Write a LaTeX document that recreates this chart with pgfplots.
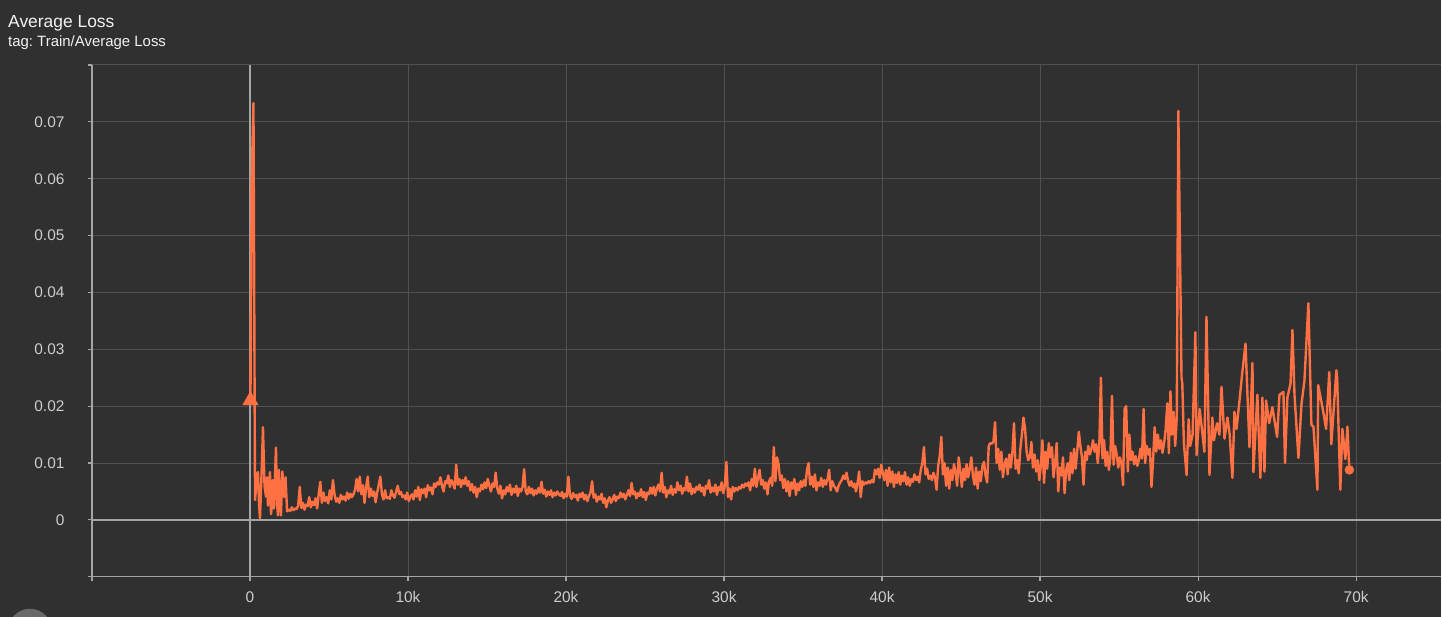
\documentclass[border=0pt]{standalone}
\usepackage{pgfplots}
\usepackage{pgfplotstable}
\pgfplotsset{compat=1.18}
\usepackage{fontspec}
\setmainfont{Liberation Sans}
\frenchspacing
\definecolor{bgc}{RGB}{48,48,48}
\definecolor{gridc}{RGB}{80,80,80}
\definecolor{axisc}{RGB}{165,165,165}
\definecolor{labc}{RGB}{205,205,205}
\definecolor{titc}{RGB}{242,242,242}
\definecolor{lossc}{RGB}{255,112,67}
\definecolor{circc}{RGB}{105,105,105}

\pgfplotstableread{
step loss
30 0.0210
110 0.0600
220 0.0733
320 0.0035
443 0.0080
506 0.0084
570 0.0030
633 0.0003
720 0.0070
822 0.0163
920 0.0060
1012 0.0041
1080 0.0075
1139 0.0025
1265 0.0084
1330 0.0010
1392 0.0027
1455 0.0070
1518 0.0020
1645 0.0127
1710 0.0030
1771 0.0008
1834 0.0088
1900 0.0030
1961 0.0008
2050 0.0085
2150 0.0040
2250 0.0075
2350 0.0015
2450 0.0018
2550 0.0016
2650 0.0022
2750 0.0017
2850 0.0020
2950 0.0019
3050 0.0025
3150 0.0058
3250 0.0021
3350 0.0030
3450 0.0018
3550 0.0027
3650 0.0024
3750 0.0040
3850 0.0022
3950 0.0032
4050 0.0026
4150 0.0038
4250 0.0020
4350 0.0045
4450 0.0067
4550 0.0030
4650 0.0048
4750 0.0033
4850 0.0040
4950 0.0029
5050 0.0052
5150 0.0036
5250 0.0070
5350 0.0045
5450 0.0032
5550 0.0038
5650 0.0030
5750 0.0044
5850 0.0036
5950 0.0041
6050 0.0034
6150 0.0048
6250 0.0037
6350 0.0046
6450 0.0040
6550 0.0045
6650 0.0053
6750 0.0072
6850 0.0050
6950 0.0076
7050 0.0045
7150 0.0061
7250 0.0030
7350 0.0058
7450 0.0076
7550 0.0040
7650 0.0055
7750 0.0042
7850 0.0050
7950 0.0031
8050 0.0048
8150 0.0062
8250 0.0076
8350 0.0045
8450 0.0036
8550 0.0052
8650 0.0038
8750 0.0040
8850 0.0037
8950 0.0052
9050 0.0043
9150 0.0039
9250 0.0050
9350 0.0060
9450 0.0045
9550 0.0049
9650 0.0040
9750 0.0043
9850 0.0036
9950 0.0048
10050 0.0033
10150 0.0041
10250 0.0045
10350 0.0036
10450 0.0052
10550 0.0041
10650 0.0058
10750 0.0035
10850 0.0054
10950 0.0047
11050 0.0055
11150 0.0040
11250 0.0061
11350 0.0052
11450 0.0057
11550 0.0045
11650 0.0064
11750 0.0058
11850 0.0066
11950 0.0062
12050 0.0075
12150 0.0060
12250 0.0050
12350 0.0068
12450 0.0064
12550 0.0078
12650 0.0058
12750 0.0070
12850 0.0064
12950 0.0055
13050 0.0097
13150 0.0062
13250 0.0072
13350 0.0058
13450 0.0070
13550 0.0063
13650 0.0075
13750 0.0060
13850 0.0068
13950 0.0052
14050 0.0063
14150 0.0048
14250 0.0058
14350 0.0040
14450 0.0055
14550 0.0050
14650 0.0062
14750 0.0054
14850 0.0066
14950 0.0056
15050 0.0072
15150 0.0060
15250 0.0050
15350 0.0064
15450 0.0058
15550 0.0083
15650 0.0055
15750 0.0046
15850 0.0060
15950 0.0038
16050 0.0052
16150 0.0045
16250 0.0058
16350 0.0050
16450 0.0062
16550 0.0044
16650 0.0055
16750 0.0048
16850 0.0060
16950 0.0042
17050 0.0055
17150 0.0050
17250 0.0058
17350 0.0089
17450 0.0050
17550 0.0045
17650 0.0058
17750 0.0047
17850 0.0055
17950 0.0043
18050 0.0052
18150 0.0046
18250 0.0056
18350 0.0048
18450 0.0067
18550 0.0046
18650 0.0053
18750 0.0041
18850 0.0050
18950 0.0044
19050 0.0052
19150 0.0040
19250 0.0048
19350 0.0043
19450 0.0050
19550 0.0045
19650 0.0042
19750 0.0049
19850 0.0038
19950 0.0046
20050 0.0041
20150 0.0076
20250 0.0043
20350 0.0037
20450 0.0047
20550 0.0040
20650 0.0044
20750 0.0034
20850 0.0046
20950 0.0040
21050 0.0048
21150 0.0036
21250 0.0044
21350 0.0033
21450 0.0042
21550 0.0048
21650 0.0068
21750 0.0039
21850 0.0045
21950 0.0032
22050 0.0041
22150 0.0036
22250 0.0046
22350 0.0030
22450 0.0038
22550 0.0022
22650 0.0034
22750 0.0040
22850 0.0030
22950 0.0036
23050 0.0044
23150 0.0033
23250 0.0041
23350 0.0038
23450 0.0048
23550 0.0040
23650 0.0046
23750 0.0036
23850 0.0044
23950 0.0052
24050 0.0042
24150 0.0065
24250 0.0045
24350 0.0050
24450 0.0038
24550 0.0047
24650 0.0042
24750 0.0054
24850 0.0040
24950 0.0049
25050 0.0035
25150 0.0048
25250 0.0045
25350 0.0057
25450 0.0046
25550 0.0058
25650 0.0043
25750 0.0055
25850 0.0062
25950 0.0050
26050 0.0083
26150 0.0048
26250 0.0058
26350 0.0040
26450 0.0052
26550 0.0047
26650 0.0060
26750 0.0044
26850 0.0054
26950 0.0048
27050 0.0066
27150 0.0052
27250 0.0060
27350 0.0046
27450 0.0056
27550 0.0052
27650 0.0076
27750 0.0050
27850 0.0064
27950 0.0045
28050 0.0055
28150 0.0048
28250 0.0058
28350 0.0053
28450 0.0062
28550 0.0050
28650 0.0057
28750 0.0043
28850 0.0060
28950 0.0055
29050 0.0070
29150 0.0048
29250 0.0057
29350 0.0050
29450 0.0062
29550 0.0044
29650 0.0058
29750 0.0052
29850 0.0066
29950 0.0047
30050 0.0060
30150 0.0102
30250 0.0040
30350 0.0055
30450 0.0036
30550 0.0058
30650 0.0050
30750 0.0056
30850 0.0052
30950 0.0058
31050 0.0055
31150 0.0062
31250 0.0057
31350 0.0064
31450 0.0060
31550 0.0066
31650 0.0052
31750 0.0072
31850 0.0060
31950 0.0090
32050 0.0058
32150 0.0074
32250 0.0088
32350 0.0062
32450 0.0070
32550 0.0055
32650 0.0066
32750 0.0045
32850 0.0068
32950 0.0074
33050 0.0060
33150 0.0128
33250 0.0068
33350 0.0110
33450 0.0098
33550 0.0070
33650 0.0078
33750 0.0056
33850 0.0072
33950 0.0050
34050 0.0068
34150 0.0042
34250 0.0066
34350 0.0055
34450 0.0072
34550 0.0044
34650 0.0064
34750 0.0052
34850 0.0068
34950 0.0058
35050 0.0070
35150 0.0060
35250 0.0088
35350 0.0100
35450 0.0062
35550 0.0076
35650 0.0058
35750 0.0080
35850 0.0052
35950 0.0066
36050 0.0060
36150 0.0074
36250 0.0058
36350 0.0070
36450 0.0062
36550 0.0072
36650 0.0088
36750 0.0052
36850 0.0068
36950 0.0060
37050 0.0056
37150 0.0050
37250 0.0060
37350 0.0066
37450 0.0070
37550 0.0078
37650 0.0072
37750 0.0083
37850 0.0068
37950 0.0060
38050 0.0068
38150 0.0058
38250 0.0064
38350 0.0050
38450 0.0065
38550 0.0085
38650 0.0040
38750 0.0068
38850 0.0062
38950 0.0066
39050 0.0064
39150 0.0068
39250 0.0065
39350 0.0070
39450 0.0066
39550 0.0088
39650 0.0080
39750 0.0090
39850 0.0074
39950 0.0097
40050 0.0082
40150 0.0070
40250 0.0088
40350 0.0060
40450 0.0092
40550 0.0066
40650 0.0085
40750 0.0058
40850 0.0080
40950 0.0065
41050 0.0084
41150 0.0062
41250 0.0078
41350 0.0068
41450 0.0084
41550 0.0062
41650 0.0075
41750 0.0060
41850 0.0072
41950 0.0067
42050 0.0080
42150 0.0070
42250 0.0076
42350 0.0066
42450 0.0088
42550 0.0100
42650 0.0128
42750 0.0080
42850 0.0090
42950 0.0072
43050 0.0078
43150 0.0070
43250 0.0083
43350 0.0075
43450 0.0053
43550 0.0095
43650 0.0112
43750 0.0146
43850 0.0080
43950 0.0100
44050 0.0060
44150 0.0092
44250 0.0055
44350 0.0088
44450 0.0070
44550 0.0098
44650 0.0085
44750 0.0060
44850 0.0110
44950 0.0085
45050 0.0058
45150 0.0090
45250 0.0070
45350 0.0098
45450 0.0075
45550 0.0090
45650 0.0110
45750 0.0078
45850 0.0062
45950 0.0092
46050 0.0055
46150 0.0085
46250 0.0068
46350 0.0095
46450 0.0102
46550 0.0078
46650 0.0066
46750 0.0130
46850 0.0135
46950 0.0134
47050 0.0138
47150 0.0172
47250 0.0100
47350 0.0125
47450 0.0088
47550 0.0120
47650 0.0075
47750 0.0098
47850 0.0108
47950 0.0080
48050 0.0115
48150 0.0092
48250 0.0120
48350 0.0170
48450 0.0090
48550 0.0105
48650 0.0082
48750 0.0125
48850 0.0150
48950 0.0180
49050 0.0160
49150 0.0120
49250 0.0105
49350 0.0110
49450 0.0137
49550 0.0092
49650 0.0115
49750 0.0085
49850 0.0105
49950 0.0070
50050 0.0095
50150 0.0140
50250 0.0065
50350 0.0120
50450 0.0090
50550 0.0135
50650 0.0110
50750 0.0128
50850 0.0075
50950 0.0100
51050 0.0135
51150 0.0050
51250 0.0092
51350 0.0078
51450 0.0110
51550 0.0047
51650 0.0088
51750 0.0100
51850 0.0070
51950 0.0118
52050 0.0082
52150 0.0125
52250 0.0090
52350 0.0120
52450 0.0155
52550 0.0130
52650 0.0110
52750 0.0062
52850 0.0120
52950 0.0105
53050 0.0130
53150 0.0115
53250 0.0125
53350 0.0140
53450 0.0120
53550 0.0133
53650 0.0100
53750 0.0133
53850 0.0250
53950 0.0108
54050 0.0140
54150 0.0095
54250 0.0120
54350 0.0088
54450 0.0110
54550 0.0218
54650 0.0097
54750 0.0130
54850 0.0115
54950 0.0092
55050 0.0110
55150 0.0100
55250 0.0061
55350 0.0195
55450 0.0200
55550 0.0085
55650 0.0150
55750 0.0105
55850 0.0120
55950 0.0098
56050 0.0112
56150 0.0095
56250 0.0105
56350 0.0125
56450 0.0108
56550 0.0195
56650 0.0100
56750 0.0130
56850 0.0115
56950 0.0125
57050 0.0058
57150 0.0105
57250 0.0163
57350 0.0120
57450 0.0150
57550 0.0125
57650 0.0140
57750 0.0118
57850 0.0135
57950 0.0160
58050 0.0205
58150 0.0117
58250 0.0226
58350 0.0150
58450 0.0190
58550 0.0130
58650 0.0180
58750 0.0719
58950 0.0250
59000 0.0240
59100 0.0135
59270 0.0079
59400 0.0177
59500 0.0130
59650 0.0150
59830 0.0330
59900 0.0114
60100 0.0195
60280 0.0150
60400 0.0120
60530 0.0357
60720 0.0079
60900 0.0180
61000 0.0140
61200 0.0170
61350 0.0150
61480 0.0234
61670 0.0143
61860 0.0180
62000 0.0150
62170 0.0074
62300 0.0190
62430 0.0160
62620 0.0210
62800 0.0260
63000 0.0310
63250 0.0128
63440 0.0276
63500 0.0084
63750 0.0220
63940 0.0074
64070 0.0215
64200 0.0085
64300 0.0210
64500 0.0170
64700 0.0198
65000 0.0146
65150 0.0220
65400 0.0225
65500 0.0100
65650 0.0215
65850 0.0240
65970 0.0334
66100 0.0220
66350 0.0109
66540 0.0203
66730 0.0245
66980 0.0381
67170 0.0167
67300 0.0164
67550 0.0053
67600 0.0237
67870 0.0198
68100 0.0160
68300 0.0260
68430 0.0133
68750 0.0263
68800 0.0250
69000 0.0053
69130 0.0160
69320 0.0107
69450 0.0164
69570 0.0088
}\lossdata

\pgfplotstableread{
step loss
30 0.0210
}\startpt
\pgfplotstableread{
step loss
69570 0.0088
}\endpt

\begin{document}
\begin{tikzpicture}
\fill[bgc] (0,0) rectangle (1442bp,617bp);
\begin{scope}
\clip (0,0) rectangle (1442bp,617bp);
\fill[circc] (30bp,-14bp) circle (22bp);
\end{scope}
\node[anchor=base west, inner sep=0, text=titc, font=\fontsize{17.5}{20}\selectfont] at (8bp,589bp) {Average Loss};
\node[anchor=base west, inner sep=0, text=titc, font=\fontsize{15}{17}\selectfont] at (8bp,570bp) {tag: Train/Average Loss};
\begin{axis}[
  at={(92bp,40bp)}, anchor=south west,
  scale only axis, width=1350bp, height=512bp,
  xmin=-10000, xmax=75394, ymin=-0.01, ymax=0.08,
  axis lines=left, axis line style={-, draw=axisc, line width=1.2bp},
  xtick={-10000,10000,20000,30000,40000,50000,60000,70000},
  xticklabels={,10k,20k,30k,40k,50k,60k,70k},
  ytick={-0.01,0.01,0.02,0.03,0.04,0.05,0.06,0.07,0.08},
  yticklabels={,0.01,0.02,0.03,0.04,0.05,0.06,0.07,},
  extra x ticks={0}, extra x tick labels={0},
  extra y ticks={0}, extra y tick labels={0},
  extra tick style={grid=major, major grid style={draw=axisc, line width=1.3bp}},
  grid=major, major grid style={draw=gridc, line width=1bp},
  tick align=outside, major tick length=4bp,
  tick style={draw=axisc, line width=1.2bp},
  /pgf/number format/assume math mode=true,
  ticklabel style={font=\fontsize{15.5}{18}\selectfont, text=labc},
  yticklabel style={xshift=-20bp},
  xticklabel style={yshift=-7bp},
  scaled ticks=false,
]
\addplot[lossc, line width=2.4bp, line join=round, no markers] table[x=step, y=loss] {\lossdata};
\addplot[only marks, mark=triangle*, mark size=9bp, color=lossc] table[x=step, y=loss] {\startpt};
\addplot[only marks, mark=*, mark size=4.5bp, color=lossc] table[x=step, y=loss] {\endpt};
\end{axis}
\end{tikzpicture}
\end{document}
